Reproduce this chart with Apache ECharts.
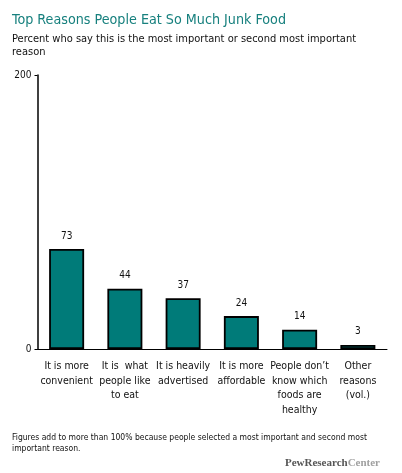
<!DOCTYPE html>
<html>
<head>
<meta charset="utf-8">
<script src="https://cdn.jsdelivr.net/npm/echarts@6/dist/echarts.min.js"></script>
<style>
  html, body { margin: 0; padding: 0; background: #fff; }
  #chart { width: 402px; height: 473px; }
</style>
</head>
<body>
<div id="chart"></div>
<script>
var categories = [
    'It is more\nconvenient',
    'It is  what\npeople like\nto eat',
    'It is heavily\nadvertised',
    'It is more\naffordable',
    'People don\u2019t\nknow which\nfoods are\nhealthy',
    'Other\nreasons\n(vol.)'
];
var values = [73, 44, 37, 24, 14, 3];
var yTicks = [0, 200];

var font = '"DejaVu Sans Condensed", "DejaVu Sans", sans-serif';

var chart = echarts.init(document.getElementById('chart'));

chart.setOption({
    animation: false,
    textStyle: {fontFamily: font},
    title: [{
	text: 'Top Reasons People Eat So Much Junk Food',
	left: 7, top: 8,
	textStyle: {fontFamily: font, fontSize: 14.2, fontWeight: 'normal', color: '#17807e'}
    }, {
	text: 'Percent who say this is the most important or second most important\nreason',
	left: 7, top: 28,
	textStyle: {fontFamily: font, fontSize: 11, fontWeight: 'normal', color: '#111', lineHeight: 13}
    }, {
	text: 'Figures add to more than 100% because people selected a most important and second most\nimportant reason.',
	left: 7, top: 427,
	textStyle: {fontFamily: font, fontSize: 8.5, fontWeight: 'normal', color: '#111', lineHeight: 11}
    }, {
	text: '{a|PewResearch}{b|Center}',
	right: 17, top: 453,
	textStyle: {
	    rich: {
		a: {fontFamily: '"Liberation Serif", serif', fontSize: 11, color: '#555'},
		b: {fontFamily: '"Liberation Serif", serif', fontSize: 11, color: '#a0a0a0'}
	    }
	}
    }],
    grid: {left: 37.5, right: 15, top: 75, bottom: 124, containLabel: false},
    xAxis: {
	type: 'category',
	data: categories,
	axisLine: {lineStyle: {color: '#000', width: 1}},
	axisTick: {show: false},
	axisLabel: {
	    interval: 0, margin: 10,
	    fontFamily: font, fontSize: 10.5, color: '#111', lineHeight: 14.7
	}
    },
    yAxis: {
	type: 'value',
	min: yTicks[0], max: yTicks[1], interval: yTicks[1] - yTicks[0],
	splitLine: {show: false},
	axisLine: {show: true, lineStyle: {color: '#000', width: 1.5}},
	axisTick: {show: true, length: 3, lineStyle: {color: '#000'}},
	axisLabel: {margin: 6, fontFamily: font, fontSize: 10, color: '#111'}
    },
    series: [{
	type: 'bar',
	data: values,
	barWidth: 35,
	itemStyle: {color: '#007b79', borderColor: '#000', borderWidth: 1.8},
	label: {
	    show: true, position: 'top', distance: 8,
	    fontFamily: font, fontSize: 10, color: '#111'
	}
    }]
});
</script>
</body>
</html>
